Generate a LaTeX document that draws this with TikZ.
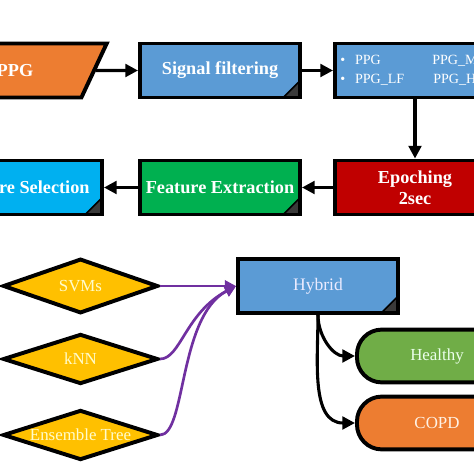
\documentclass[tikz,border=0pt]{standalone}
\usepackage{fontspec}
\setmainfont{Liberation Serif}
\usetikzlibrary{arrows.meta,shapes.geometric}

\definecolor{rawor}{HTML}{ED7D31}
\definecolor{procblue}{HTML}{5B9BD5}
\definecolor{epochred}{HTML}{C00000}
\definecolor{extgreen}{HTML}{00B050}
\definecolor{selcyan}{HTML}{00B0F0}
\definecolor{algogold}{HTML}{FFC000}
\definecolor{okgreen}{HTML}{70AD47}
\definecolor{votepurple}{HTML}{7030A0}
\definecolor{foldgray}{HTML}{3A3A3A}

\begin{document}
\begin{tikzpicture}[
  x=0.025cm, y=0.025cm,
  stepbox/.style={draw, line width=2.8pt, minimum width=4cm, minimum height=1.35cm,
                  text=white, align=center, font=\fontsize{13}{15}\selectfont\bfseries},
  fold/.style={path picture={
      \fill[foldgray] (path picture bounding box.south east) -- ++(-0.42cm,0)
                      -- ++(0.42cm,0.42cm) -- cycle;
      \draw[line width=1.2pt] (path picture bounding box.south east) ++(-0.42cm,0)
                      -- ++(0.42cm,0.42cm);}},
  bandtxt/.style={text=white, inner sep=0pt, font=\fontsize{10}{12}\selectfont},
  algo/.style={diamond, draw, line width=2.8pt, fill=algogold, text=yellow!20,
               minimum width=3.875cm, minimum height=1.25cm, inner sep=0pt,
               font=\fontsize{12}{14}\selectfont},
  leaf/.style={draw, line width=2.8pt, rounded corners=0.62cm, minimum width=4cm,
               minimum height=1.32cm, font=\fontsize{12}{14}\selectfont},
  flow/.style={-{Triangle[length=9pt,width=9pt]}, line width=2.2pt},
  vote/.style={-{Triangle[length=8pt,width=8pt]}, line width=1.9pt, draw=votepurple}
]
\clip (0,0) rectangle (474,474);

% signal chain
\node[stepbox, trapezium, trapezium left angle=68, trapezium right angle=112,
      trapezium stretches=true, minimum width=4.6cm, fill=rawor] (raw) at (15,403.5) {PPG};
\node[stepbox, fill=procblue, fold] (filt) at (220,403.5) {Signal filtering};
\node[stepbox, fill=procblue] (bands) at (415,403.5) {};
\node[bandtxt, anchor=base west] (bpa) at (340,409) {\textbullet\hspace{7pt}PPG};
\node[bandtxt, anchor=base west] (bpb) at (340,390) {\textbullet\hspace{7pt}PPG\_LF};
\node[bandtxt, anchor=base west] (bpc) at (432,409) {PPG\_MF};
\node[bandtxt, anchor=base west] (bpd) at (433,390) {PPG\_HF};
\node[stepbox, fill=epochred] (epoch) at (415,286.5) {Epoching\\2sec};
\node[stepbox, fill=extgreen, fold] (fext) at (220,286.5) {Feature Extraction};
\node[stepbox, fill=selcyan, fold] (fsel) at (22,286.5) {Feature Selection};

\draw[flow] (raw) -- (filt);
\draw[flow] (filt) -- (bands);
\draw[flow] (bands) -- (epoch);
\draw[flow] (epoch) -- (fext);
\draw[flow] (fext) -- (fsel);

% classifiers
\node[algo] (svm) at (80.5,188) {SVMs};
\node[algo] (knn) at (80.5,115) {kNN};
\node[algo] (ens) at (80.5,39) {\makebox[0pt]{Ensemble Tree}};
\node[stepbox, fill=procblue, fold, text=blue!8, font=\fontsize{12.5}{14}\selectfont] (hyb) at (318,188) {Hybrid};
\node[leaf, fill=okgreen, text=green!8] (healthy) at (437,118) {Healthy};
\node[leaf, fill=rawor, text=orange!10] (copd) at (437,51) {COPD};

\draw[vote] (svm.east) -- (hyb.west);
\draw[vote] (knn.east) to[out=0, in=208, out looseness=0.5, in looseness=1.4] (hyb.west);
\draw[vote] (ens.east) to[out=0, in=208, out looseness=0.4, in looseness=1.0] (hyb.west);
\draw[flow] (hyb.south) to[out=-90, in=180] (healthy.west);
\draw[flow] (hyb.south) to[out=-90, in=180] (copd.west);
\end{tikzpicture}
\end{document}
